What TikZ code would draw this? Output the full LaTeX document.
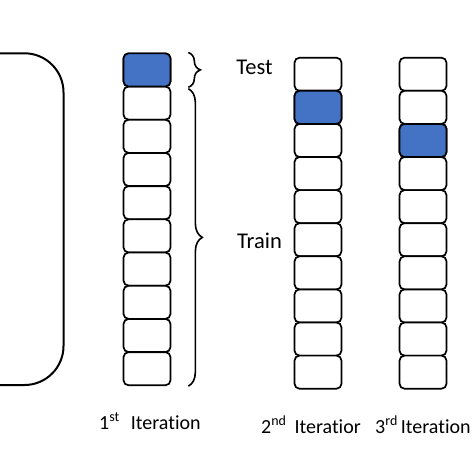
\documentclass[tikz,border=0pt]{standalone}
\usepackage{fontspec}
\setmainfont{Carlito}[Ligatures=NoCommon]
\usetikzlibrary{decorations.pathreplacing}
\definecolor{boxblue}{HTML}{4472C4}
\begin{document}
\begin{tikzpicture}[x=1pt,y=-1pt,
  cell/.style={draw=black,line width=1.7pt,rounded corners=5pt,minimum width=47pt,minimum height=33.1pt,inner sep=0pt,fill=white},
  hot/.style={cell,fill=boxblue},
  lbl/.style={font=\fontsize{22.5}{26}\selectfont,inner sep=0pt,anchor=base},
  itl/.style={font=\fontsize{20}{24}\selectfont,inner sep=0pt,anchor=base west},
  brc/.style={decorate,decoration={brace,amplitude=#1},line width=1.6pt}]
\clip (0,0) rectangle (474,474);
\useasboundingbox (0,0) rectangle (474,474);
% left frame (cut by the edge)
\draw[line width=2pt,rounded corners=39pt] (-30,53.3) -- (63.5,53.3) -- (63.5,385) -- (-30,385);
% column 1
\foreach \i in {0,...,9}{
  \node[cell] (a\i) at (147,{53.3+16.6+\i*33.2}) {};
}
\node[hot] (a0) at (147,69.9) {};
% column 2
\foreach \i in {0,...,9}{
  \node[cell] (b\i) at (318,{57.7+16.55+\i*33.1}) {};
}
\node[hot] (b1) at (318,{57.7+16.55+33.1}) {};
% column 3
\foreach \i in {0,...,9}{
  \node[cell] (c\i) at (423,{57.7+16.55+\i*33.1}) {};
}
\node[hot] (c2) at (423,{57.7+16.55+2*33.1}) {};
% braces
\coordinate (t1) at ([xshift=17pt]a0.north east);
\coordinate (t2) at ([xshift=17pt]a0.south east);
\coordinate (r1) at ([xshift=17pt,yshift=-3pt]a1.north east);
\coordinate (r2) at ([xshift=17pt]a9.south east);
\draw[brc=12pt] (t1) -- (t2);
\draw[brc=14pt] (r1) -- (r2);
\node[lbl] (test) at (254.5,74) {Test};
\node[lbl] (train) at (259.5,248) {Train};
% iteration labels
\node[itl] (it1) at (99,429) {1\textsuperscript{st}\hspace{11pt}Iteration};
\node[itl] (it2) at (261,433) {2\textsuperscript{nd}\hspace{8pt}Iteratior};
\node[itl] (it3) at (375,433) {3\textsuperscript{rd}\hspace{3pt}Iteration};
\end{tikzpicture}
\end{document}
